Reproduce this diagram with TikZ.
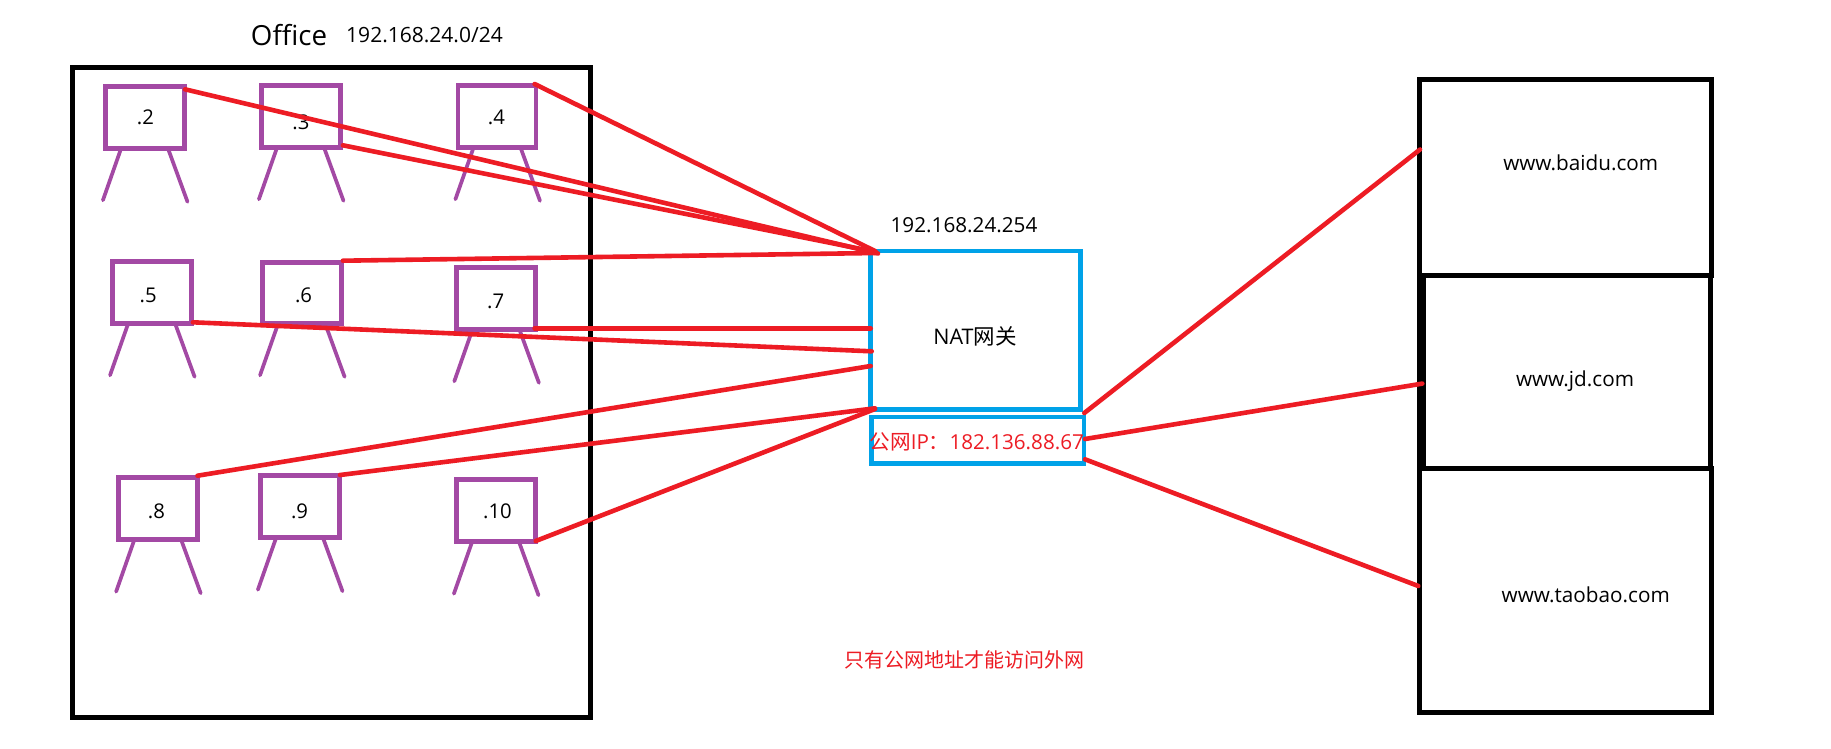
\documentclass[tikz,border=0pt]{standalone}
\usepackage{fontspec}
\setmainfont{Open Sans}
\newfontfamily\cjk{Noto Sans CJK SC}
\usetikzlibrary{calc}
\definecolor{pred}{HTML}{ED1C24}
\definecolor{ppurple}{HTML}{A349A4}
\definecolor{pblue}{HTML}{00A2E8}
\newcommand{\fs}[1]{\fontsize{#1}{#1}\selectfont}
\tikzset{
  x=1pt,y=-1pt,
  monbox/.style={draw=ppurple,line width=4.8pt,rectangle,inner sep=0pt,outer sep=0pt},
  monleg/.style={draw=ppurple,line width=3.7pt,line cap=round},
  blk/.style={draw=black,line width=5pt,rectangle,inner sep=0pt,outer sep=0pt},
  gate/.style={draw=pblue,line width=4.5pt,rectangle,inner sep=0pt,outer sep=0pt},
  redline/.style={draw=pred,line width=4.6pt,line cap=round},
  txt/.style={inner sep=0pt,outer sep=0pt,text=black,font=\fs{20.3}},
  redtxt/.style={inner sep=0pt,outer sep=0pt,text=pred,font=\fs{20.6}},
}
% name, x1, y1, x2, y2, label, label x, label y
\newcommand{\mon}[8]{%
  \node[monbox,minimum width={(#4-#2)*1pt},minimum height={(#5-#3)*1pt}] (n#1) at ({(#2+#4)/2},{(#3+#5)/2}) {};
  \node[txt] (t#1) at (#7,#8) {#6};
  \draw[monleg] ($(n#1.south west)+(15.4,1)$) -- ($(n#1.south west)+(-2.5,52)$);
  \draw[monleg] ($(n#1.south west)+(62.9,1)$) -- ($(n#1.south west)+(82.1,53.5)$);
}
\newcommand{\bx}[7]{%
  \node[#1,minimum width={(#5-#3)*1pt},minimum height={(#6-#4)*1pt}] (#2) at ({(#3+#5)/2},{(#4+#6)/2}) {#7};
}
\begin{document}
\begin{tikzpicture}
\fill[white] (0,0) rectangle (1831,748);
\useasboundingbox (0,0) rectangle (1831,748);

\bx{blk}{office}{72.5}{67.7}{590.4}{717.3}{}
\node[txt,font=\fs{27.7}] (officet) at (289,35) {Office};
\node[txt,font=\fs{21}] (subnet) at (424.5,35.5) {192.168.24.0/24};

\mon{2}{105.4}{86.3}{184.6}{148.3}{.2}{145.4}{117}
\mon{3}{261.4}{85.3}{340.4}{147.3}{.3}{301}{122.7}
\mon{4}{457.9}{85.3}{536}{147.3}{.4}{496.4}{117.3}
\mon{5}{112.5}{261.3}{191.4}{323.3}{.5}{148.2}{295.7}
\mon{6}{262.5}{262.7}{341.4}{323.3}{.6}{303.6}{295.7}
\mon{7}{456.8}{267.7}{535.4}{329.3}{.7}{495.7}{301.7}
\mon{8}{118.6}{477.3}{197.5}{539.7}{.8}{156.4}{511.7}
\mon{9}{260.4}{475.3}{339.6}{537.7}{.9}{299.6}{511.7}
\mon{10}{456.4}{479.3}{535.4}{541.7}{.10}{497.5}{511.7}

\bx{gate}{nat}{870.3}{251.2}{1080.7}{409.5}{}
\bx{gate}{ip}{871.3}{417}{1084}{463.7}{}
\node[txt,font=\fs{21.5}] (natt) at (975,336) {NAT{\cjk 网关}};
\node[redtxt] (ipt) at (976.7,441.7) {{\cjk 公网}IP{\cjk ：}182.136.88.67};
\node[txt,font=\fs{20.7}] (natip) at (964,225) {192.168.24.254};

\bx{blk}{baidu}{1419.3}{79.4}{1711.7}{275.6}{}
\bx{blk}{jd}{1423.7}{275.6}{1710.5}{468}{}
\bx{blk}{taobao}{1419.3}{468}{1711.7}{712.3}{}
\draw[black,line width=5pt] (baidu.south west) -- (taobao.north west);
\node[txt,font=\fs{20.7}] (baidut) at (1580.7,163) {www.baidu.com};
\node[txt,font=\fs{20.7}] (jdt) at (1575,381.5) {www.jd.com};
\node[txt,font=\fs{20.7}] (taobaot) at (1585.7,595) {www.taobao.com};
\node[redtxt,font=\fs{20}] (note) at (964.5,660) {\cjk 只有公网地址才能访问外网};

\draw[redline] ($(n2.north east)+(0.4,3)$) -- ($(nat.north west)+(7.7,2.3)$);
\draw[redline] ($(n3.south east)+(2.5,-2)$) -- ($(nat.north west)+(5.7,0.8)$);
\draw[redline] ($(n4.north east)+(-1.4,-1.3)$) -- ($(nat.north west)+(4.7,-0.2)$);
\draw[redline] ($(n6.north east)+(1.5,-2)$) -- ($(nat.north west)+(4.7,1.8)$);
\draw[redline] ($(n7.south east)+(-0.8,-1)$) -- ($(nat.north west)+(0.4,77.1)$);
\draw[redline] ($(n5.south east)+(1.5,-1)$) -- ($(nat.north west)+(1.4,100.1)$);
\draw[redline] ($(n8.north east)+(0,-1.6)$) -- ($(nat.north west)+(0.4,114.8)$);
\draw[redline] ($(n9.north east)+(0.4,-0.3)$) -- ($(nat.south west)+(4.7,-1.2)$);
\draw[redline] ($(n10.south east)+(0.3,-0.7)$) -- ($(nat.south west)+(4.7,-0.5)$);
\draw[redline] ($(nat.south east)+(3.6,3.5)$) -- ($(baidu.north west)+(0.7,70.1)$);
\draw[redline] ($(ip.east)+(1,-1.35)$) -- ($(jd.north west)+(-1.4,108)$);
\draw[redline] ($(ip.south east)+(1,-4.4)$) -- ($(taobao.north west)+(-1,118)$);
\end{tikzpicture}
\end{document}
